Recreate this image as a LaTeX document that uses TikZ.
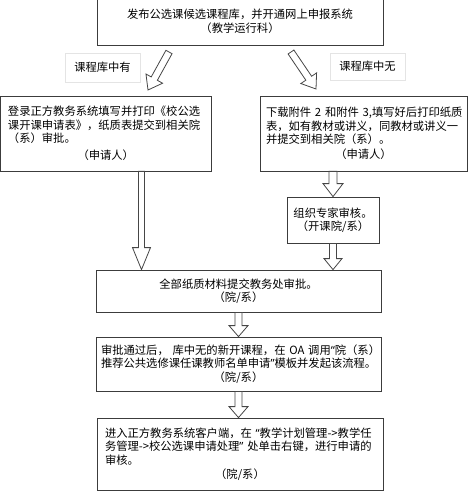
\documentclass[tikz,border=0pt]{standalone}
\usepackage{fontspec}
\setmainfont{Noto Sans CJK SC}
\newfontfamily\latinfont{Noto Sans}
\usetikzlibrary{calc}
\definecolor{boxline}{RGB}{60,60,60}
\definecolor{arrowline}{RGB}{70,70,70}
\definecolor{faint}{RGB}{228,228,228}
\newcommand\qt[1]{{\latinfont #1}}
\newcommand\lineL[1]{\mbox{#1}}
\newcommand\lineC[2][0pt]{\par\vspace{#1}\centering #2\par}
\tikzset{
  box/.style={draw=boxline, line width=0.8pt, fill=white, inner ysep=2pt,
    font=\fontsize{11.3}{13.5}\selectfont},
  lbl/.style={draw=faint, line width=0.6pt, fill=white, minimum width=75pt,
    font=\fontsize{11.3}{13.5}\selectfont},
  blockarrow/.style={draw=arrowline, line width=0.8pt, fill=white, line join=miter},
}
\newcommand\hollowarrow[5]{%
  \draw[blockarrow] let \p1=(#1), \p2=(#2),
    \n1={atan2(\y2-\y1,\x2-\x1)}, \n2={veclen(\x2-\x1,\y2-\y1)} in
    [shift={(\p1)}, rotate=\n1]
    (0pt,#3pt) -- (\n2-#5pt,#3pt) -- (\n2-#5pt,#4pt) -- (\n2,0pt)
    -- (\n2-#5pt,-#4pt) -- (\n2-#5pt,-#3pt) -- (0pt,-#3pt) -- cycle;}
\begin{document}
\begin{tikzpicture}[x=1pt,y=-1pt]
\useasboundingbox (0,0) rectangle (474,494);
\fill[white] (0,0) rectangle (474,494);

\node[box, minimum width=286pt, minimum height=47pt, inner xsep=8pt,
  text width=270pt, align=center] (b1) at (240,21.5)
  {发布公选课候选课程库，并开通网上申报系统\\（教学运行科）};

\node[lbl, minimum height=29pt] (l1) at (102.5,67.5) {课程库中有};
\node[lbl, minimum height=27pt] (l2) at (367.5,66.5) {课程库中无};

\node[box, minimum width=210.5pt, minimum height=75pt, inner xsep=7.5pt,
  text width=195.5pt, align=left] (b2) at (105.75,133.5)
  {\lineL{登录正方教务系统填写并打印《校公选}\\\lineL{课开课申请表》，纸质表提交到相关院}\\\lineL{（系）审批。}
   \lineC[3pt]{（申请人）}};

\node[box, minimum width=207pt, minimum height=75pt, inner xsep=6pt,
  text width=195pt, align=left] (b3) at (363.5,133.5)
  {\lineL{下载附件 2 和附件 3,填写好后打印纸质}\\\lineL{表，如有教材或讲义，同教材或讲义一}\\\lineL{并提交到相关院（系）。}
   \lineC[1pt]{（申请人）}};

\node[box, minimum width=92pt, minimum height=46pt, inner xsep=3pt,
  text width=86pt, align=center] (b4) at (333,220)
  {组织专家审核。\\（开课院/系）};

\node[box, minimum width=285pt, minimum height=42pt, inner xsep=7pt,
  text width=270pt, align=center] (b5) at (238.5,291)
  {全部纸质材料提交教务处审批。\\（院/系）};

\node[box, minimum width=285pt, minimum height=54pt, inner xsep=5pt,
  text width=275pt, align=left] (b6) at (238.5,364)
  {\lineL{审批通过后， 库中无的新开课程，在 OA 调用\qt{“}院（系）}\\\lineL{推荐公共选修课任课教师名单申请\qt{”}模板并发起该流程。}
   \lineC{（院/系）}};

\node[box, minimum width=286pt, minimum height=72pt, inner xsep=8pt,
  text width=270pt, align=left] (b7) at (240,454)
  {\lineL{进入正方教务系统客户端，在 \qt{“}教学计划管理->教学任}\\\lineL{务管理->校公选课申请处理\qt{”} 处单击右键，进行申请的}\\\lineL{审核。}
   \lineC[1pt]{（院/系）}};

\coordinate (a1s) at (169,52);
\coordinate (a1e) at (148,90);
\coordinate (a2s) at (291,52);
\coordinate (a2e) at (316,89);
\coordinate (c4) at (141.5,0);

\hollowarrow{a1s}{a1e}{3.5}{9.5}{13}
\hollowarrow{a2s}{a2e}{3.5}{9.5}{13}
\hollowarrow{b4.north |- b3.south}{b4.north}{4}{10}{13}
\hollowarrow{c4 |- b2.south}{c4 |- b5.north}{3}{9}{22}
\hollowarrow{b4.south}{b4.south |- b5.north}{3.5}{9}{11}
\hollowarrow{b5.south}{b6.north}{3.5}{9.5}{11}
\hollowarrow{b6.south}{b6.south |- b7.north}{3.5}{9.5}{11}
\end{tikzpicture}
\end{document}
